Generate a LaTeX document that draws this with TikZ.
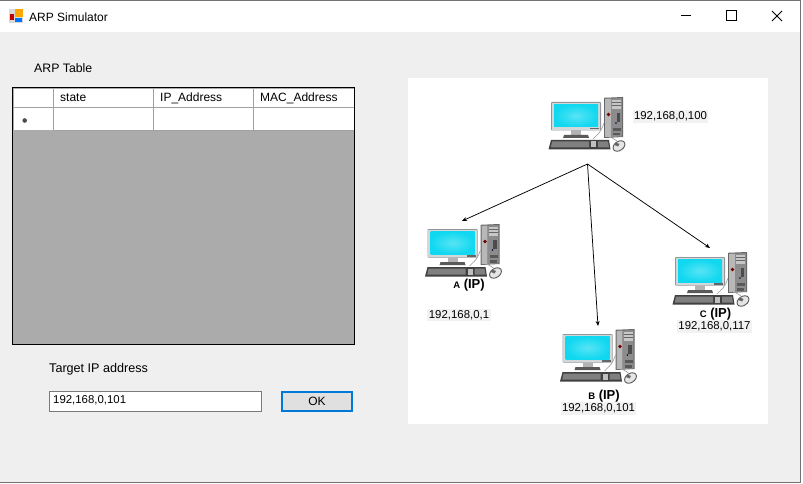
\documentclass[tikz,border=0pt]{standalone}
\usepackage{fontspec}
\setmainfont{Liberation Sans}
\definecolor{winbg}{HTML}{EFEFEF}
\definecolor{grid}{HTML}{A0A0A0}
\definecolor{tblgray}{HTML}{ABABAB}
\definecolor{winblue}{HTML}{0078D7}
\definecolor{screenc}{HTML}{10D8F0}
\definecolor{bezel}{HTML}{B4BCC0}
\definecolor{lbl}{HTML}{F2F2F2}
\usetikzlibrary{arrows.meta}
\tikzset{
  ui/.style={inner sep=0pt,anchor=west,text=black,font=\fontsize{12}{14}\selectfont},
  iplabel/.style={inner xsep=1.5pt,inner ysep=1.5pt,fill=lbl,text=black,font=\fontsize{11.4}{14}\selectfont},
  namelabel/.style={inner sep=0pt,text=black,font=\bfseries\fontsize{13}{14}\selectfont},
  gridline/.style={draw=grid,line width=0.9pt},
  link/.style={draw=black,line width=0.75pt,-{Stealth[length=5pt,width=4pt]}},
  pics/computer/.style={code={
    % monitor
    \fill[bezel!80!black,rounded corners=0.8pt] (3,5) rectangle (53,33.5);
    \fill[bezel!60!white] (3.8,5.8) rectangle (52.2,32.7);
    \shade[inner color=screenc!70!white,outer color=screenc] (6,7.5) rectangle (50,30);
    \fill[black!60] (42,31) rectangle (51,32.5);
    \fill[black!30] (23,33.5) rectangle (33,38);
    \fill[black!65] (16,38) -- (40,38) -- (41,41) -- (15,41) -- cycle;
    % keyboard
    \fill[black!75] (3,43) -- (61,43) -- (62.5,52.5) -- (0.5,52.5) -- cycle;
    \fill[black!50] (4,44.5) -- (41,44.5) -- (41,50.5) -- (2.8,50.5) -- cycle;
    \fill[black!50] (50,44.5) -- (60,44.5) -- (61,50.5) -- (50,50.5) -- cycle;
    \fill[black!25] (43,44.5) rectangle (48,50.5);
    % tower
    \fill[black!60] (56,0.8) -- (75,0) -- (75,40) -- (56,41) -- cycle;
    \fill[black!28] (57,1.8) -- (63,1.5) -- (63,40) -- (57,40) -- cycle;
    \fill[black!45] (63,1.5) -- (74,1) -- (74,39.5) -- (63,40) -- cycle;
    \fill[black!22] (64,3) rectangle (73,12);
    \draw[black!60,line width=0.5pt] (64,5.5) -- (73,5.5) (64,8.5) -- (73,8.5);
    \fill[red!45!black] (60.5,17.5) circle (1.8);
    \fill[black!70] (68.5,16) rectangle (72,25);
    \fill[black!75!blue] (68,26) circle (0.9);
    \fill[black!65] (65,31) rectangle (73,34);
    \fill[black!65] (65,36) rectangle (72,38.5);
    % cable and mouse
    \draw[black!40,line width=0.6pt] (56,26) .. controls (52,38) and (48,38) .. (45,42);
    \draw[black!40,line width=0.6pt] (62,40) .. controls (66,42) and (68,43) .. (69,44);
    \filldraw[draw=black!65,fill=black!10,line width=0.9pt,rotate around={35:(71,49)}] (71,49) ellipse (6.5 and 4.5);
    \fill[black!60] (67.5,45.5) -- (71.5,47) -- (70,49.5) -- (66.5,48) -- cycle;
  }}
}
\begin{document}
\begin{tikzpicture}[x=1pt,y=-1pt]
\useasboundingbox (0,0) rectangle (803,484);
\fill[white] (0,0) rectangle (803,484);
% window
\fill[winbg] (0,32) rectangle (800,482);
\fill[white] (0,2) rectangle (800,32);
\draw[black!55,line width=1pt] (0,1) -- (800.5,1) -- (800.5,482.5) -- (0,482.5);
% title bar icon
\fill[black!15] (9,9) rectangle (23,23);
\fill[orange!70!yellow] (15,9.5) rectangle (22.5,17);
\fill[red!75!black] (10,14) rectangle (14,20);
\fill[blue!55!cyan] (15,18) rectangle (22,22.5);
\node[ui] (title) at (29,17) {ARP Simulator};
% window buttons
\coordinate (minl) at (681,16);
\coordinate (minr) at (691,16);
\draw[black,line width=1pt] (minl) -- (minr);
\draw[black,line width=1pt] (726.5,11) rectangle (736,20.5);
\draw[black,line width=0.9pt] (772,11) -- (782,21) (782,11) -- (772,21);
% ARP table
\node[ui,font=\fontsize{12.3}{14}\selectfont] (tabletitle) at (34,68) {ARP Table};
\fill[tblgray] (13,88) rectangle (355,345);
\fill[white] (14,89) rectangle (354,130.5);
\draw[gridline] (14,107.5) -- (354,107.5);
\draw[gridline] (53.5,89) -- (53.5,130.5);
\draw[gridline] (153.5,89) -- (153.5,130.5);
\draw[gridline] (253.5,89) -- (253.5,130.5);
\draw[gridline] (53.5,130.5) -- (354,130.5);
\draw[black,line width=1pt] (12.5,87.5) rectangle (354.5,344.5);
\node[ui] (colstate) at (60,98) {state};
\node[ui] (colip) at (160,98) {IP\_Address};
\node[ui] (colmac) at (260,98) {MAC\_Address};
\fill[black!70] (24.7,120.5) circle (2.3);
% target form
\node[ui,font=\fontsize{12.6}{14}\selectfont] (targetlabel) at (49,369.5) {Target IP address};
\node[draw=black!52,fill=white,line width=1pt,minimum width=212pt,minimum height=20pt,inner sep=0pt,anchor=north west] (ipbox) at (49,391) {};
\node[ui,font=\fontsize{11.4}{14}\selectfont] at (53,400) (ipvalue) {192,168,0,101};
\node[draw=winblue,fill=black!12,line width=2pt,minimum width=70pt,minimum height=18.5pt,inner sep=0pt,anchor=north west,font=\fontsize{12}{14}\selectfont] (okbtn) at (281,391) {OK};
% diagram panel
\fill[white] (408,78) rectangle (768,424);
\pic at (548,97) {computer};
\pic at (424.5,224) {computer};
\pic at (559.5,329) {computer};
\pic at (672,252) {computer};
\coordinate (hub) at (587.5,164);
\coordinate (ca) at (462,221);
\coordinate (cb) at (598,326);
\coordinate (cc) at (710,248);
\draw[link] (hub) -- (ca);
\draw[link] (hub) -- (cb);
\draw[link] (hub) -- (cc);
\node[iplabel] (iptop) at (670.5,116.5) {192,168,0,100};
\node[namelabel] (namea) at (469,285.5) {{\fontsize{9.5}{10}\selectfont A} (IP)};
\node[iplabel] (ipa) at (459,315) {192,168,0,1};
\node[namelabel] (nameb) at (604,396.5) {{\fontsize{9.5}{10}\selectfont B} (IP)};
\node[iplabel] (ipb) at (598.5,408.5) {192,168,0,101};
\node[namelabel] (namec) at (715.5,314) {{\fontsize{9.5}{10}\selectfont C} (IP)};
\node[iplabel] (ipc) at (714.5,326.5) {192,168,0,117};
\end{tikzpicture}
\end{document}
